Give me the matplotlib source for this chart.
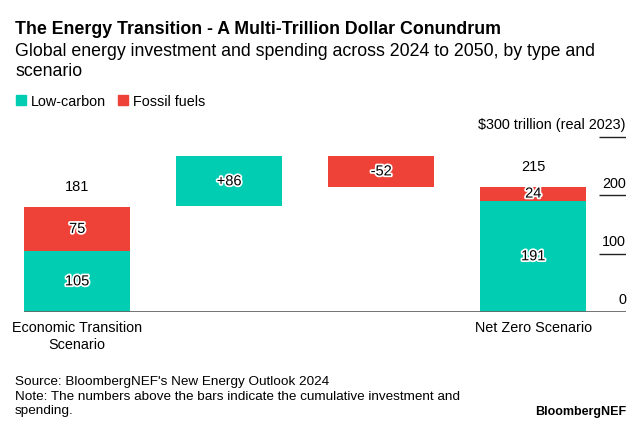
import matplotlib
matplotlib.use('Agg')
import matplotlib.pyplot as plt
import matplotlib.patheffects as pe

plt.rcParams['font.family'] = ['Liberation Sans', 'DejaVu Sans']

# Datos (billones de USD, real 2023)
categorias = ['Economic Transition\nScenario', '', '', 'Net Zero Scenario']
eto_bajo_carbono = 105
eto_fosiles = 75
eto_total = 181
cambio_bajo_carbono = 86
cambio_fosiles = -52
nzs_bajo_carbono = 191
nzs_fosiles = 24
nzs_total = 215
ticks_y = [0, 100, 200, 300]
etiquetas_y = ['0', '100', '200', '$300 trillion (real 2023)']

verde = '#00CDB2'
rojo = '#EE4238'
contorno = [pe.withStroke(linewidth=2.5, foreground='white')]

fig = plt.figure(figsize=(6.4, 4.31), dpi=100)
W, H = 640, 431
x0, x1, y0 = 24, 626, 313
ylim_top = 315
top_px = y0 - ylim_top * (175 / 300)
ax = fig.add_axes([x0 / W, 1 - y0 / H, (x1 - x0) / W, (y0 - top_px) / H])

ancho = 0.7
# Barra 1
ax.bar(0, eto_bajo_carbono, ancho, color=verde)
ax.bar(0, eto_fosiles, ancho, bottom=eto_bajo_carbono, color=rojo)
# Cambios
ax.bar(1, cambio_bajo_carbono, ancho, bottom=eto_total, color=verde)
tope = eto_total + cambio_bajo_carbono
ax.bar(2, cambio_fosiles, ancho, bottom=tope, color=rojo)
# Barra 4
ax.bar(3, nzs_bajo_carbono, ancho, color=verde)
ax.bar(3, nzs_fosiles, ancho, bottom=nzs_bajo_carbono, color=rojo)

def etiqueta(x, y, s):
    ax.text(x, y, s, ha='center', va='center', fontsize=10.5, color='black',
            path_effects=contorno)

etiqueta(0, eto_bajo_carbono / 2, str(eto_bajo_carbono))
etiqueta(0, eto_bajo_carbono + eto_fosiles / 2, str(eto_fosiles))
etiqueta(1, eto_total + cambio_bajo_carbono / 2, '+%d' % cambio_bajo_carbono)
etiqueta(2, tope + cambio_fosiles / 2, '%d' % cambio_fosiles)
etiqueta(3, nzs_bajo_carbono / 2, str(nzs_bajo_carbono))
etiqueta(3, nzs_bajo_carbono + nzs_fosiles / 2, str(nzs_fosiles))

for x, total in [(0, eto_total), (3, nzs_total)]:
    ax.annotate(str(total), (x, total), xytext=(0, 15), textcoords='offset points',
                ha='center', va='center', fontsize=10.5)

xmin, xmax = -0.35, 3.61
ax.set_xlim(xmin, xmax)
ax.set_ylim(0, ylim_top)
ax.axhline(0, color='#666666', lw=2, zorder=3)

for t, lab in zip(ticks_y, etiquetas_y):
    if t > 0:
        ax.hlines(t, 3.43, xmax, color='#222222', lw=1)
    ax.annotate(lab, (xmax, t), xytext=(0, 9), textcoords='offset points',
                ha='right', va='center', fontsize=10.4)

ax.set_xticks([0, 3])
ax.set_xticklabels([categorias[0], categorias[3]], fontsize=10.4)
ax.tick_params(axis='x', length=0, pad=6)
ax.set_yticks([])
for s in ax.spines.values():
    s.set_visible(False)

# Textos
fig.text(15 / W, 1 - 30 / H, 'The Energy Transition - A Multi-Trillion Dollar Conundrum',
         fontsize=12.8, fontweight='bold', va='center')
fig.text(15 / W, 1 - 52 / H,
         'Global energy investment and spending across 2024 to 2050, by type and',
         fontsize=12.8, va='center')
fig.text(15 / W, 1 - 72 / H, 'scenario', fontsize=12.8, va='center')

fig.patches.append(plt.Rectangle((16 / W, 1 - 106 / H), 10 / W, 10 / H,
                                 transform=fig.transFigure, color=verde))
fig.text(31 / W, 1 - 102 / H, 'Low-carbon', fontsize=10.4, va='center')
fig.patches.append(plt.Rectangle((118 / W, 1 - 106 / H), 10 / W, 10 / H,
                                 transform=fig.transFigure, color=rojo))
fig.text(133 / W, 1 - 102 / H, 'Fossil fuels', fontsize=10.4, va='center')

fig.text(15 / W, 1 - 382 / H, "Source: BloombergNEF's New Energy Outlook 2024",
         fontsize=9.7, va='center')
fig.text(15 / W, 1 - 397 / H,
         "Note: The numbers above the bars indicate the cumulative investment and",
         fontsize=9.7, va='center')
fig.text(15 / W, 1 - 411 / H, "spending.", fontsize=9.7, va='center')
fig.text(626 / W, 1 - 412 / H, 'BloombergNEF', fontsize=9, fontweight='bold',
         ha='right', va='center')

fig.savefig('out.png', dpi=100)
